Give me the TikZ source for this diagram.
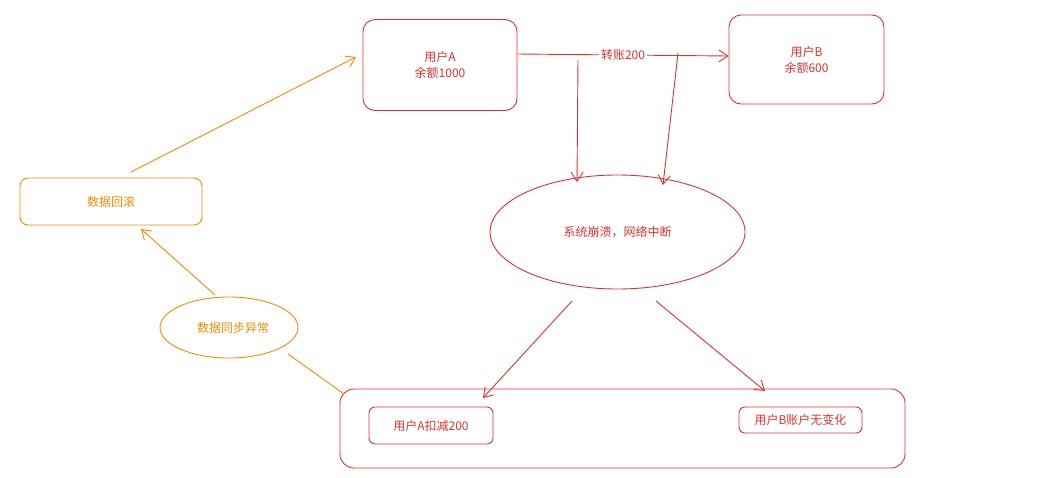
\documentclass[tikz,border=0pt]{standalone}
\usepackage{fontspec}
\newfontfamily\cjk{Noto Sans CJK SC}
\usetikzlibrary{arrows.meta,shapes.geometric}
\definecolor{rd}{HTML}{E03131}
\definecolor{og}{HTML}{F08C00}
\tikzset{
  box/.style={draw, rounded corners=12pt, line width=0.9pt, inner sep=0pt, align=center, font=\cjk\fontsize{12}{16}\selectfont},
  oval/.style={draw, ellipse, line width=0.9pt, inner sep=0pt, font=\cjk\fontsize{12}{16}\selectfont},
  arr/.style={line width=0.9pt, -{Straight Barb[length=9pt,width=12pt]}},
  lin/.style={line width=0.9pt},
}
\begin{document}
\begin{tikzpicture}[x=1pt,y=-1pt]
\useasboundingbox (0,0) rectangle (1055,477);
% red part
\node[box, rd, minimum width=154pt, minimum height=91pt] (A) at (440,65) {用户A\\余额1000};
\node[box, rd, minimum width=155pt, minimum height=89pt] (B) at (806.5,59.5) {用户B\\余额600};
\node[oval, rd, text=rd, minimum width=255pt, minimum height=114pt] (E) at (617.5,232) {系统崩溃，网络中断};
\node[box, rd, rounded corners=14pt, minimum width=565pt, minimum height=79pt] (C) at (622.5,428.5) {};
\node[box, rd, rounded corners=6pt, minimum width=124pt, minimum height=37pt] (CA) at (431,425.5) {用户A扣减200};
\node[box, rd, rounded corners=6pt, minimum width=123pt, minimum height=26pt] (CB) at (800.5,420) {用户B账户无变化};
\coordinate (t1) at (578,60);
\coordinate (t2) at (678,53);
\coordinate (e1) at (577,182);
\coordinate (e2) at (663,185);
\coordinate (b1) at (572,301);
\coordinate (b2) at (656,301);
\coordinate (c1) at (483,398);
\coordinate (c2) at (765,391);
\draw[arr, rd] (A.east |- 0,54) -- node[fill=white, text=rd, inner sep=2pt, font=\cjk\fontsize{12}{14}\selectfont] {转账200} (B.west |- 0,56);
\draw[arr, rd] (t1) -- (e1);
\draw[arr, rd] (t2) -- (e2);
\draw[arr, rd] (b1) -- (c1);
\draw[arr, rd] (b2) -- (c2);
% orange part
\node[box, og, text=og, rounded corners=8pt, minimum width=182pt, minimum height=47pt] (R) at (111,201.5) {数据回滚};
\node[oval, og, text=og, minimum width=138pt, minimum height=61pt] (S) at (229,327.5) {\hspace*{8pt}数据同步异常};
\coordinate (s1) at (288,354);
\coordinate (s2) at (215,295);
\coordinate (r1) at (141,229);
\coordinate (r2) at (131,172);
\coordinate (a1) at (356,57);
\coordinate (k1) at (344,394);
\draw[lin, og] (k1) -- (s1);
\draw[arr, og] (s2) -- (r1);
\draw[arr, og] (r2) -- (a1);
\end{tikzpicture}
\end{document}
